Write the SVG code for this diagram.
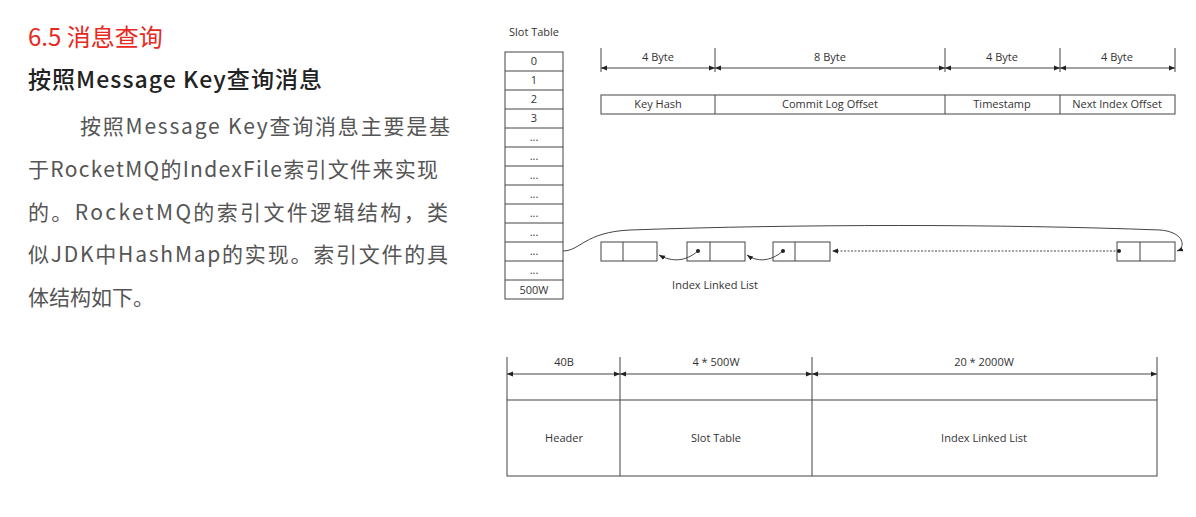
<svg xmlns="http://www.w3.org/2000/svg" width="1196" height="517" viewBox="0 0 1196 517">
<defs>
<marker id="ar" viewBox="0 0 10 10" refX="10" refY="5" markerWidth="6" markerHeight="6" orient="auto-start-reverse"><path d="M0,1 L10,5 L0,9 z" fill="#222"/></marker>
<marker id="dot" viewBox="0 0 10 10" refX="5" refY="5" markerWidth="5" markerHeight="5"><circle cx="5" cy="5" r="4" fill="#222"/></marker>
</defs>
<style>
.t{font-family:"Open Sans","Liberation Sans",sans-serif;fill:#333;font-size:11px;text-anchor:middle}
.b{fill:#fff;stroke:#444;stroke-width:1}
.l{stroke:#444;stroke-width:1;fill:none}
.h{font-family:"Noto Sans CJK SC",sans-serif}
</style>
<rect width="1196" height="517" fill="#fff"/>
<g id="text-left" class="h">
<text x="28" y="46" font-size="24" fill="#e8281e">6.5 消息查询</text>
<text x="28" y="88" font-size="23" font-weight="500" fill="#222" textLength="294">按照Message Key查询消息</text>
<g font-size="21" fill="#555">
<text x="80" y="134" textLength="370">按照Message Key查询消息主要是基</text>
<text x="28" y="177" textLength="410">于RocketMQ的IndexFile索引文件来实现</text>
<text x="28" y="220" textLength="420">的。RocketMQ的索引文件逻辑结构，类</text>
<text x="28" y="262" textLength="420">似JDK中HashMap的实现。索引文件的具</text>
<text x="28" y="305">体结构如下。</text>
</g>
</g>
<g id="slot-table">
<text class="t" x="534" y="36">Slot Table</text>
<rect class="b" x="505" y="52" width="58" height="247"/>
<path class="l" d="M505 71H563M505 90H563M505 109H563M505 128H563M505 147H563M505 166H563M505 185H563M505 204H563M505 223H563M505 242H563M505 261H563M505 280H563"/>
<g class="t" font-size="10">
<text x="534" y="65">0</text><text x="534" y="84">1</text><text x="534" y="103">2</text><text x="534" y="122">3</text>
<text x="534" y="141">...</text><text x="534" y="160">...</text><text x="534" y="179">...</text><text x="534" y="198">...</text><text x="534" y="217">...</text><text x="534" y="236">...</text><text x="534" y="255">...</text><text x="534" y="274">...</text>
<text x="534" y="294">500W</text>
</g>
</g>
<g id="entry">
<path class="l" d="M601 48V72M715 48V72M945 48V72M1060 48V72M1175 48V72"/>
<g class="l"><line x1="601" y1="68" x2="715" y2="68" marker-start="url(#ar)" marker-end="url(#ar)"/><line x1="715" y1="68" x2="945" y2="68" marker-start="url(#ar)" marker-end="url(#ar)"/><line x1="945" y1="68" x2="1060" y2="68" marker-start="url(#ar)" marker-end="url(#ar)"/><line x1="1060" y1="68" x2="1175" y2="68" marker-start="url(#ar)" marker-end="url(#ar)"/></g>
<text class="t" x="658" y="61">4 Byte</text><text class="t" x="830" y="61">8 Byte</text><text class="t" x="1002" y="61">4 Byte</text><text class="t" x="1117" y="61">4 Byte</text>
<rect class="b" x="601" y="95" width="574" height="19"/>
<path class="l" d="M715 95V114M945 95V114M1060 95V114"/>
<text class="t" x="658" y="108">Key Hash</text><text class="t" x="830" y="108">Commit Log Offset</text><text class="t" x="1002" y="108">Timestamp</text><text class="t" x="1117" y="108">Next Index Offset</text>
</g>
<g id="linked-list">
<rect class="b" x="601" y="242" width="56" height="19"/><line class="l" x1="623" y1="242" x2="623" y2="261"/>
<rect class="b" x="687" y="242" width="58" height="19"/><line class="l" x1="710" y1="242" x2="710" y2="261"/>
<rect class="b" x="773" y="242" width="57" height="19"/><line class="l" x1="795" y1="242" x2="795" y2="261"/>
<rect class="b" x="1117" y="242" width="58" height="19"/><line class="l" x1="1140" y1="242" x2="1140" y2="261"/>
<text class="t" x="715" y="289">Index Linked List</text>
</g>
<g id="connectors" class="l">
<path d="M698 251C685 262 672 262 659 255" marker-start="url(#dot)" marker-end="url(#ar)"/>
<path d="M783 251C770 262 757 262 747 255" marker-start="url(#dot)" marker-end="url(#ar)"/>
<line x1="1119" y1="251" x2="832" y2="251" stroke-dasharray="2,1.5" marker-start="url(#dot)" marker-end="url(#ar)"/>
<path d="M563 251C580 251 585 232 630 230C800 224 1000 224 1160 230C1185 232 1186 248 1177 251" marker-end="url(#ar)"/>
</g>
<g id="layout">
<path class="l" d="M507 357V400M620 357V400M812 357V400M1157 357V400"/>
<line class="l" x1="507" y1="374" x2="620" y2="374" marker-start="url(#ar)" marker-end="url(#ar)"/>
<line class="l" x1="620" y1="374" x2="812" y2="374" marker-start="url(#ar)" marker-end="url(#ar)"/>
<line class="l" x1="812" y1="374" x2="1157" y2="374" marker-start="url(#ar)" marker-end="url(#ar)"/>
<text class="t" x="564" y="366">40B</text><text class="t" x="716" y="366">4 * 500W</text><text class="t" x="984" y="366">20 * 2000W</text>
<rect class="b" x="507" y="400" width="650" height="76"/>
<path class="l" d="M620 400V476M812 400V476"/>
<text class="t" x="564" y="442">Header</text><text class="t" x="716" y="442">Slot Table</text><text class="t" x="984" y="442">Index Linked List</text>
</g>
</svg>
